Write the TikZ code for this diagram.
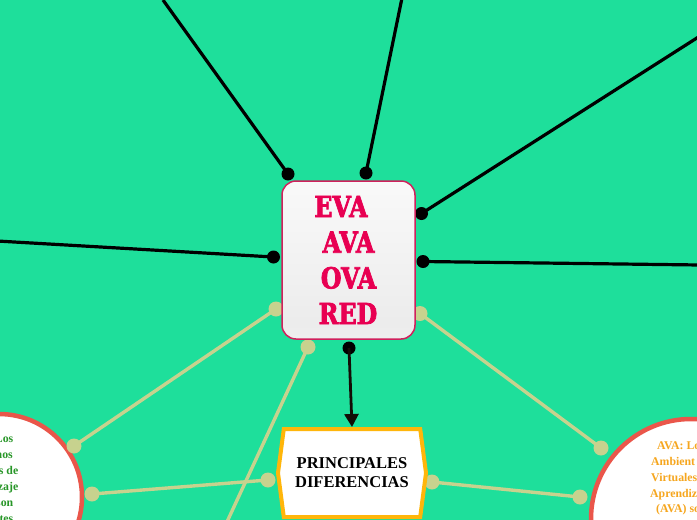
\documentclass[tikz,border=0pt]{standalone}
\usepackage{fontspec}
\setmainfont{Liberation Serif}
\newfontfamily\slab{DejaVu Serif Bold}[FakeStretch=0.82,FakeBold=2.5]
\usetikzlibrary{shapes.symbols,arrows.meta}
\definecolor{bgc}{RGB}{30,223,155}
\definecolor{boxb}{RGB}{208,32,92}
\definecolor{tpink}{RGB}{232,0,82}
\definecolor{lite}{RGB}{199,210,142}
\definecolor{ringc}{RGB}{234,86,74}
\definecolor{hexc}{RGB}{255,182,10}
\definecolor{tgreen}{RGB}{40,150,40}
\definecolor{torange}{RGB}{246,166,30}
\pgfdeclarelayer{bg}
\pgfsetlayers{bg,main}
\pgfdeclareverticalshading{boxsh}{100bp}{color(0bp)=(gray!4); color(30bp)=(gray!15); color(60bp)=(gray!8); color(100bp)=(white)}
\tikzset{
  bline/.style={line width=3.2pt, black},
  lline/.style={line width=3.4pt, lite},
  bdot/.style={circle, fill=black, minimum size=13pt, inner sep=0pt},
  ldot/.style={circle, fill=lite, minimum size=15pt, inner sep=0pt},
  ring/.style={circle, draw=ringc, line width=4.5pt, fill=white, inner sep=0pt},
  gtxt/.style={font=\fontsize{11.8}{15}\selectfont\bfseries, text=tgreen, inner sep=0pt},
  otxt/.style={font=\fontsize{11.8}{15}\selectfont\bfseries, text=torange, inner sep=0pt},
}
\begin{document}
\begin{tikzpicture}[x=1pt,y=-1pt]
\useasboundingbox (0,0) rectangle (697,520);
\begin{pgfonlayer}{bg}
\fill[bgc] (0,0) rectangle (697,520);
\end{pgfonlayer}
\clip (0,0) rectangle (697,520);
% free ends
\coordinate (e1) at (163,0);
\coordinate (e2) at (402,-2);
\coordinate (e3) at (700,36);
\coordinate (e4) at (-3,241);
\coordinate (e5) at (700,265);
\coordinate (e6) at (226,524);
% big circles
\node[ring, minimum size=166pt] (lc) at (-1,497) {};
\node[ring, minimum size=200pt] (rc) at (691,519) {};
% circle texts
\node[gtxt, anchor=base east] at (13.5,442) {Los};
\node[gtxt, anchor=base east] at (13,458) {nos};
\node[gtxt, anchor=base east] at (18.5,474) {s de};
\node[gtxt, anchor=base east] at (18.5,490) {zaje};
\node[gtxt, anchor=base east] at (13.5,506) {son};
\node[gtxt, anchor=base east] at (13.5,522) {tes};
\node[otxt, anchor=base west] at (657,449) {AVA: Lo};
\node[otxt, anchor=base west] at (651,465) {Ambient};
\node[otxt, anchor=base west] at (651,481) {Virtuales};
\node[otxt, anchor=base west] at (650,497) {Aprendiz};
\node[otxt, anchor=base west] at (656,512.5) {(AVA) so};
% dots
\node[bdot] (b1) at (288,174) {};
\node[bdot] (b2) at (366,173) {};
\node[bdot] (b3) at (421.5,213.5) {};
\node[bdot] (b4) at (273.5,257) {};
\node[bdot] (b5) at (423,261.5) {};
\node[bdot] (b6) at (349,348) {};
\node[ldot] (l1) at (276,309) {};
\node[ldot] (l2) at (308,347) {};
\node[ldot] (l3) at (420,313.5) {};
\node[ldot] (l4) at (74,446) {};
\node[ldot] (l5) at (601,448) {};
\node[ldot] (l6) at (268,480) {};
\node[ldot] (l7) at (92,494) {};
\node[ldot] (l8) at (432,482) {};
\node[ldot] (l9) at (580,497) {};
% connectors
\begin{pgfonlayer}{bg}
\draw[bline] (b1.center) -- (e1);
\draw[bline] (b2.center) -- (e2);
\draw[bline] (b3.center) -- (e3);
\draw[bline] (b4.center) -- (e4);
\draw[bline] (b5.center) -- (e5);
\draw[lline] (l1.center) -- (l4.center);
\draw[lline] (l2.center) -- (e6);
\draw[lline] (l3.center) -- (l5.center);
\draw[lline] (l6.center) -- (l7.center);
\draw[lline] (l8.center) -- (l9.center);
\end{pgfonlayer}
% central box
\node[draw=boxb, line width=1.5pt, rounded corners=14pt, shading=boxsh,
      minimum width=133pt, minimum height=158pt, inner sep=0pt,
      align=center, text=tpink,
      font=\fontsize{29}{35.7}\selectfont\slab] (main) at (348.5,260)
  {EVA\hspace*{15pt}\\AVA\hspace*{7pt}\\OVA\hspace*{9pt}\\RED\hspace*{1pt}};
% hexagon
\node[signal, signal to=west and east, signal pointer angle=165,
      draw=hexc, line width=4pt, fill=white, minimum width=148pt, minimum height=88pt,
      inner sep=0pt, align=center,
      font=\fontsize{16.5}{19}\selectfont\bfseries] (hex) at (352,473)
  {PRINCIPALES\\DIFERENCIAS};
% arrow
\draw[line width=2.8pt, black!90!brown, -{Triangle[width=14pt,length=13pt]}] (b6.center) -- (hex.north);
\end{tikzpicture}
\end{document}
